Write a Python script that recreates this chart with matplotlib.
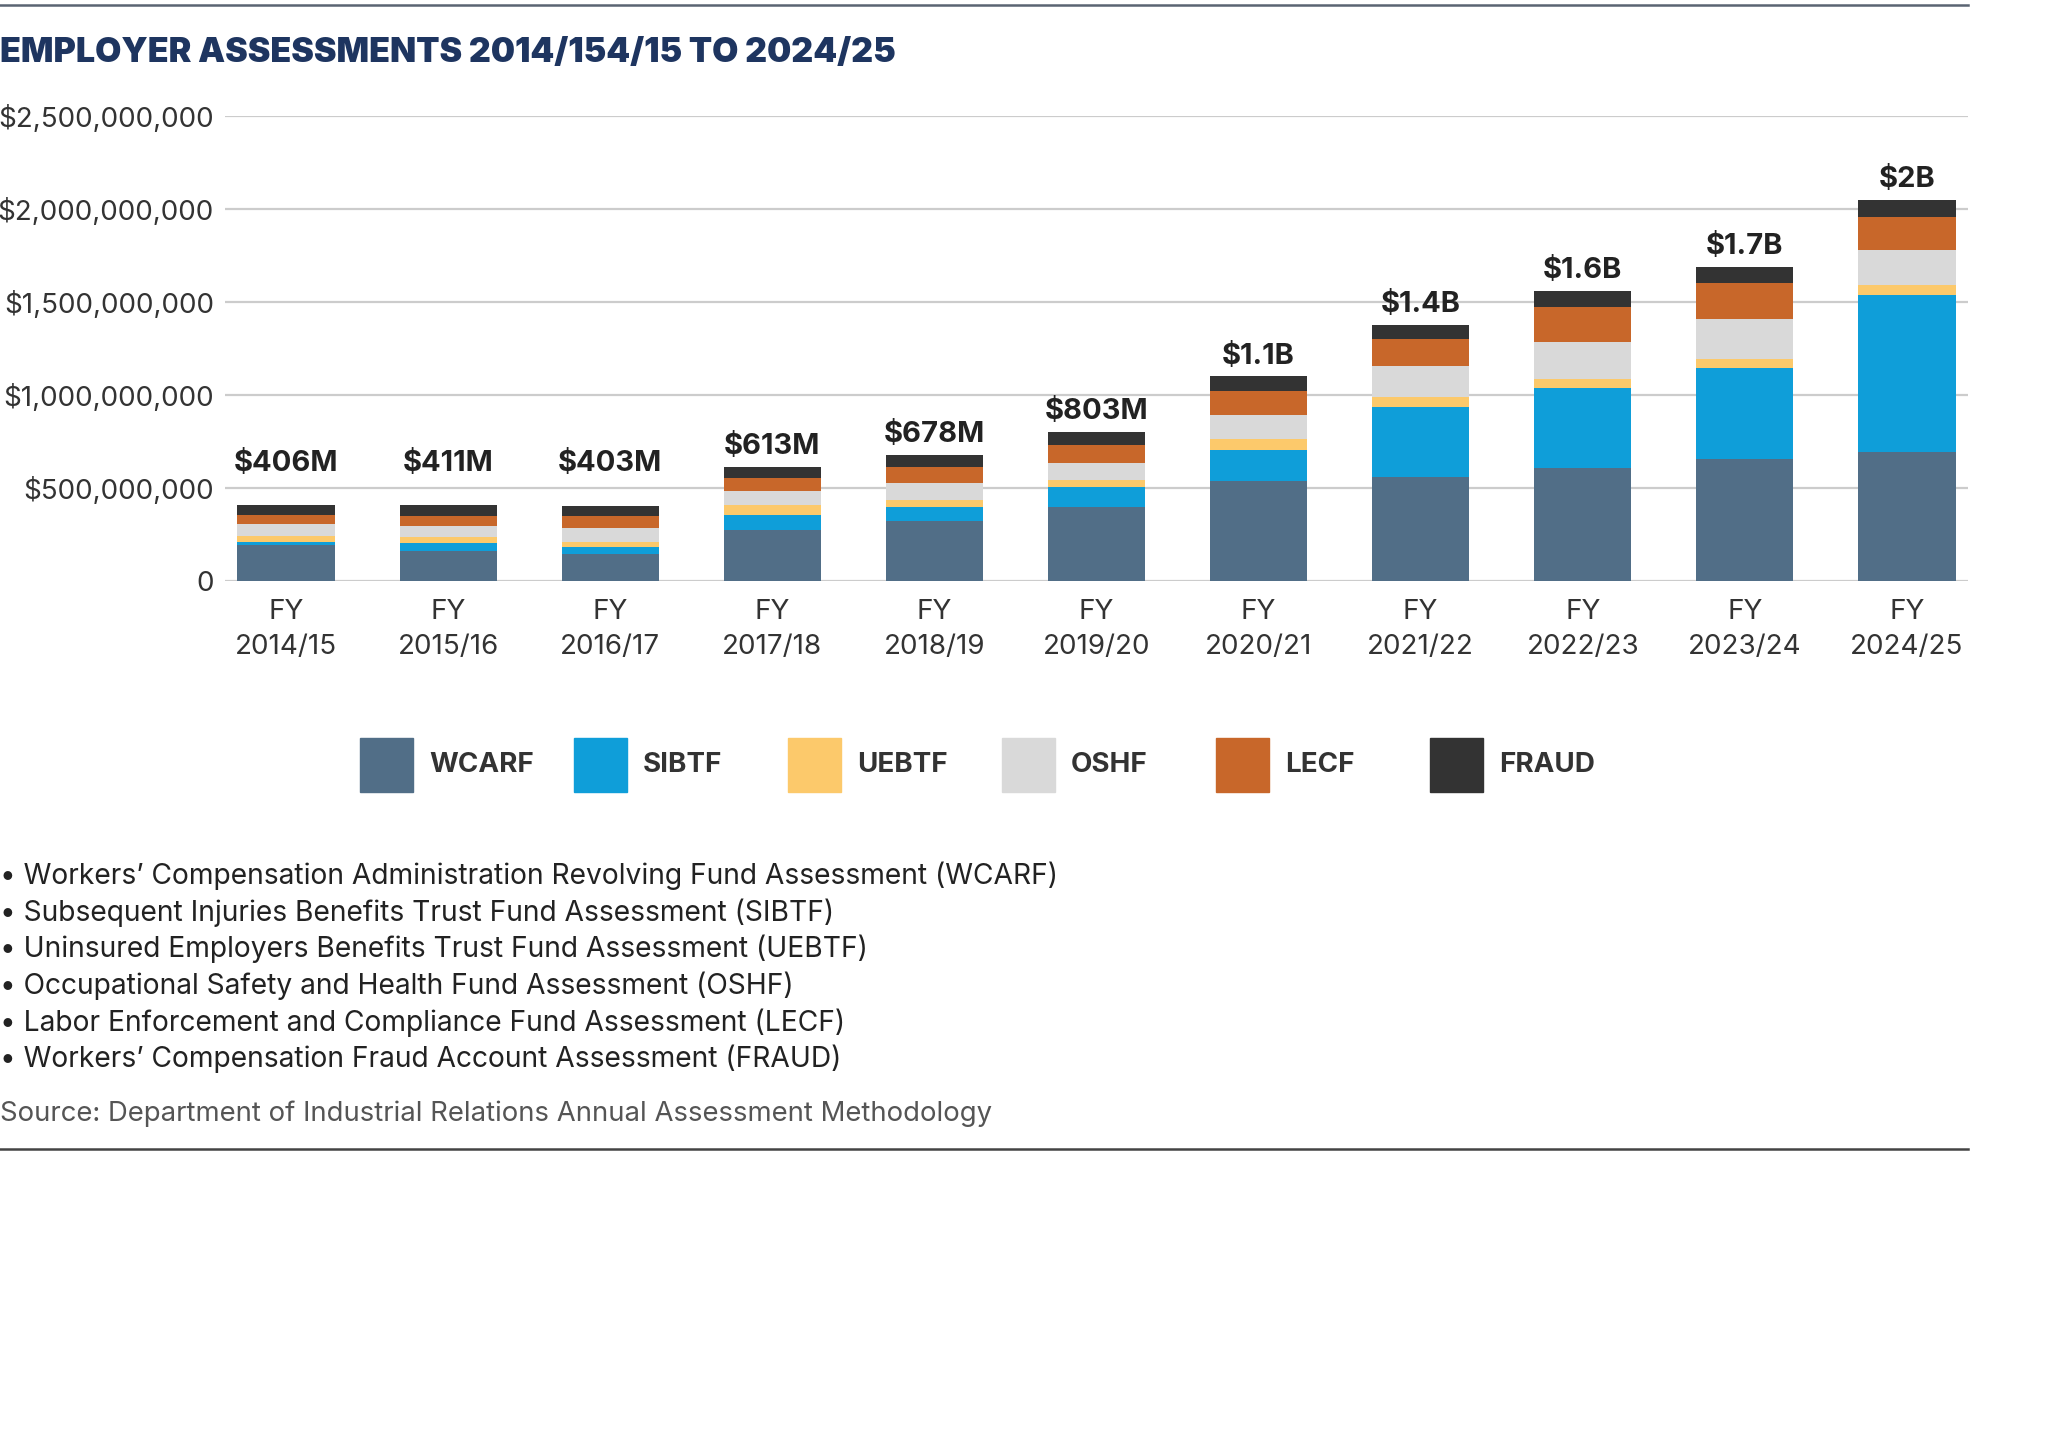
import numpy as np
import matplotlib.pyplot as plt
from matplotlib.patches import Rectangle
from matplotlib.lines import Line2D
from matplotlib.ticker import FuncFormatter

plt.rcParams['font.family'] = ['Inter', 'DejaVu Sans']

years = ['2014/15', '2015/16', '2016/17', '2017/18', '2018/19', '2019/20',
         '2020/21', '2021/22', '2022/23', '2023/24', '2024/25']
series = ['WCARF', 'SIBTF', 'UEBTF', 'OSHF', 'LECF', 'FRAUD']
colors = ['#516e87', '#0f9ed9', '#fcc96b', '#d9d9d9', '#c8672a', '#333333']

# values in millions of dollars
wcarf = [194, 160, 144, 275, 322, 396, 537, 557, 609, 657, 691]
sibtf = [18, 43, 41, 79, 77, 107, 167, 379, 429, 487, 846]
uebtf = [31, 31, 27, 54, 38, 38, 57, 52, 50, 50, 54]
oshf = [66, 63, 72, 77, 89, 93, 131, 169, 196, 217, 187]
lecf = [45, 52, 65, 67, 86, 96, 128, 144, 187, 192, 181]
fraud = [52, 62, 54, 61, 66, 73, 81, 77, 88, 86, 92]
total_labels = ['$406M', '$411M', '$403M', '$613M', '$678M', '$803M',
                '$1.1B', '$1.4B', '$1.6B', '$1.7B', '$2B']

notes = [
    'Workers\u2019 Compensation Administration Revolving Fund Assessment (WCARF)',
    'Subsequent Injuries Benefits Trust Fund Assessment (SIBTF)',
    'Uninsured Employers Benefits Trust Fund Assessment (UEBTF)',
    'Occupational Safety and Health Fund Assessment (OSHF)',
    'Labor Enforcement and Compliance Fund Assessment (LECF)',
    'Workers\u2019 Compensation Fraud Account Assessment (FRAUD)',
]

data = np.array([wcarf, sibtf, uebtf, oshf, lecf, fraud]) * 1e6
x = np.arange(len(years))

W, H = 2048, 1441
fig = plt.figure(figsize=(W / 100, H / 100), dpi=100)
ax = fig.add_axes([225 / W, 1 - 581 / H, (1968 - 225) / W, (581 - 116) / H])

bottom = np.zeros(len(years))
for vals, name, col in zip(data, series, colors):
    ax.bar(x, vals, 0.6, bottom=bottom, color=col, label=name, zorder=3)
    bottom += vals

label_floor = 5.25e8
for xi, tot, lab in zip(x, bottom, total_labels):
    ax.annotate(lab, (xi, max(tot, label_floor)), xytext=(0, 14.5),
                textcoords='offset points', ha='center', va='center',
                fontsize=21, fontweight='bold', color='#222222')

ax.set_xlim(-0.377, len(years) - 1 + 0.377)
ax.set_ylim(0, 2.5e9)
ax.set_yticks(np.arange(0, 2.5e9 + 1, 5e8))
ax.yaxis.set_major_formatter(FuncFormatter(lambda v, p: '0' if v == 0 else '${:,.0f}'.format(v)))
ax.set_xticks(x)
ax.set_xticklabels(['FY\n' + y for y in years], linespacing=1.45)
ax.tick_params(axis='both', length=0, labelsize=20, labelcolor='#333333')
ax.tick_params(axis='y', pad=8)
ax.tick_params(axis='x', pad=13)
ax.grid(axis='y', color='#cccccc', linewidth=1.6, zorder=0)
for s in ax.spines.values():
    s.set_visible(False)

# frame lines and title
fig.add_artist(Line2D([0, 1968 / W], [1 - 5 / H, 1 - 5 / H], color='#5a6472', linewidth=1.8))
fig.add_artist(Line2D([0, 1968 / W], [1 - 1149 / H, 1 - 1149 / H], color='#444444', linewidth=1.8))
fig.text(0, 1 - 53 / H, 'EMPLOYER ASSESSMENTS 2014/154/15 TO 2024/25', fontsize=24.5,
         fontweight='black', color='#1e3560', va='center', ha='left')

# legend
ly = 1 - 765 / H
for i, (name, col) in enumerate(zip(series, colors)):
    x0 = (360 + i * 214) / W
    fig.add_artist(Rectangle((x0, ly - 27 / H), 53 / W, 54 / H, color=col,
                             transform=fig.transFigure))
    fig.text(x0 + 69 / W, ly, name, fontsize=20, fontweight='bold',
             color='#333333', va='center', ha='left')

# notes
for i, n in enumerate(notes):
    fig.text(0, 1 - (876 + i * 36.6) / H, '\u2022 ' + n, fontsize=20.3,
             color='#222222', va='center', ha='left')
fig.text(0, 1 - 1114 / H, 'Source: Department of Industrial Relations Annual Assessment Methodology',
         fontsize=19.8, color='#555555', va='center', ha='left')

fig.savefig('out.png', dpi=100)
